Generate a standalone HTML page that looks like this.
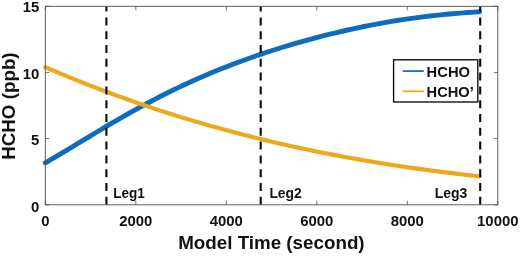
<!DOCTYPE html>
<html><head><meta charset="utf-8"><title>HCHO model</title>
<style>html,body{margin:0;padding:0;background:#fff}svg{display:block}text{font-family:"Liberation Sans",Arial,sans-serif;font-weight:bold;fill:#111}</style></head>
<body>
<svg width="520" height="256" viewBox="0 0 520 256">
<rect width="520" height="256" fill="#fff"/>
<path d="M45.3,162.77 L50.8,159.61 L56.3,156.39 L61.8,153.14 L67.3,149.85 L72.8,146.54 L78.3,143.22 L83.8,139.89 L89.3,136.57 L94.8,133.27 L100.3,129.98 L105.8,126.71 L111.3,123.48 L116.8,120.28 L122.3,117.12 L127.8,114.00 L133.3,110.92 L138.8,107.89 L144.3,104.91 L149.8,101.98 L155.2,99.11 L160.7,96.28 L166.2,93.52 L171.7,90.80 L177.2,88.14 L182.7,85.54 L188.2,82.99 L193.7,80.50 L199.2,78.06 L204.7,75.68 L210.2,73.35 L215.7,71.07 L221.2,68.84 L226.7,66.67 L232.2,64.54 L237.7,62.47 L243.2,60.44 L248.7,58.46 L254.2,56.52 L259.7,54.63 L265.2,52.78 L270.7,50.98 L276.2,49.22 L281.7,47.50 L287.2,45.83 L292.7,44.19 L298.2,42.59 L303.7,41.04 L309.2,39.52 L314.7,38.04 L320.2,36.61 L325.7,35.21 L331.2,33.84 L336.7,32.52 L342.2,31.24 L347.7,29.99 L353.2,28.78 L358.7,27.61 L364.2,26.49 L369.7,25.40 L375.1,24.35 L380.6,23.33 L386.1,22.36 L391.6,21.43 L397.1,20.54 L402.6,19.69 L408.1,18.88 L413.6,18.11 L419.1,17.38 L424.6,16.69 L430.1,16.04 L435.6,15.42 L441.1,14.84 L446.6,14.30 L452.1,13.79 L457.6,13.32 L463.1,12.88 L468.6,12.46 L474.1,12.07 L479.6,11.71" fill="none" stroke="#0c6dbe" stroke-width="4.9" stroke-linecap="round" stroke-linejoin="round"/>
<path d="M45.3,67.08 L50.8,69.45 L56.3,71.80 L61.8,74.11 L67.3,76.39 L72.8,78.64 L78.3,80.86 L83.8,83.05 L89.3,85.22 L94.8,87.35 L100.3,89.45 L105.8,91.53 L111.3,93.58 L116.8,95.60 L122.3,97.59 L127.8,99.55 L133.3,101.48 L138.8,103.39 L144.3,105.27 L149.8,107.12 L155.2,108.95 L160.7,110.75 L166.2,112.52 L171.7,114.27 L177.2,115.99 L182.7,117.68 L188.2,119.35 L193.7,120.99 L199.2,122.61 L204.7,124.20 L210.2,125.77 L215.7,127.31 L221.2,128.83 L226.7,130.32 L232.2,131.79 L237.7,133.24 L243.2,134.66 L248.7,136.06 L254.2,137.44 L259.7,138.79 L265.2,140.12 L270.7,141.43 L276.2,142.71 L281.7,143.97 L287.2,145.21 L292.7,146.43 L298.2,147.63 L303.7,148.81 L309.2,149.96 L314.7,151.09 L320.2,152.21 L325.7,153.30 L331.2,154.37 L336.7,155.42 L342.2,156.45 L347.7,157.47 L353.2,158.46 L358.7,159.43 L364.2,160.38 L369.7,161.32 L375.1,162.23 L380.6,163.13 L386.1,164.01 L391.6,164.87 L397.1,165.71 L402.6,166.54 L408.1,167.35 L413.6,168.14 L419.1,168.91 L424.6,169.67 L430.1,170.41 L435.6,171.13 L441.1,171.84 L446.6,172.53 L452.1,173.20 L457.6,173.86 L463.1,174.51 L468.6,175.13 L474.1,175.75 L479.6,176.35" fill="none" stroke="#eca91a" stroke-width="4.2" stroke-linecap="round" stroke-linejoin="round"/>
<line x1="106.4" y1="204.8" x2="106.4" y2="6.3" stroke="#0a0a0a" stroke-width="2.1" stroke-dasharray="8 5.8"/>
<line x1="260.7" y1="204.8" x2="260.7" y2="6.3" stroke="#0a0a0a" stroke-width="2.1" stroke-dasharray="8 5.8"/>
<line x1="480.2" y1="204.8" x2="480.2" y2="6.3" stroke="#0a0a0a" stroke-width="2.1" stroke-dasharray="8 5.8"/>
<rect x="45.3" y="6.3" width="452.5" height="198.5" fill="none" stroke="#505050" stroke-width="0.9"/>
<path d="M45.3,204.8 v-4 M45.3,6.3 v4 M135.8,204.8 v-4 M135.8,6.3 v4 M226.3,204.8 v-4 M226.3,6.3 v4 M316.8,204.8 v-4 M316.8,6.3 v4 M407.3,204.8 v-4 M407.3,6.3 v4 M497.8,204.8 v-4 M497.8,6.3 v4 M45.3,204.8 h4 M497.8,204.8 h-4 M45.3,138.6 h4 M497.8,138.6 h-4 M45.3,72.5 h4 M497.8,72.5 h-4 M45.3,6.3 h4 M497.8,6.3 h-4" fill="none" stroke="#505050" stroke-width="0.8"/>
<text x="45.3" y="226.2" font-size="14.9" text-anchor="middle">0</text>
<text x="135.8" y="226.2" font-size="14.9" text-anchor="middle">2000</text>
<text x="226.3" y="226.2" font-size="14.9" text-anchor="middle">4000</text>
<text x="316.8" y="226.2" font-size="14.9" text-anchor="middle">6000</text>
<text x="407.3" y="226.2" font-size="14.9" text-anchor="middle">8000</text>
<text x="497.8" y="226.2" font-size="14.9" text-anchor="middle">10000</text>
<text x="39.4" y="212.0" font-size="14.9" text-anchor="end">0</text>
<text x="39.4" y="145.1" font-size="14.9" text-anchor="end">5</text>
<text x="39.4" y="78.6" font-size="14.9" text-anchor="end">10</text>
<text x="39.4" y="12.2" font-size="14.9" text-anchor="end">15</text>
<text x="271.4" y="248.7" font-size="18.8" text-anchor="middle">Model Time (second)</text>
<text transform="translate(15.4,106.1) rotate(-90)" font-size="18.8" text-anchor="middle">HCHO (ppb)</text>
<text x="113.2" y="197.7" font-size="14.4" textLength="31.6" lengthAdjust="spacingAndGlyphs">Leg1</text>
<text x="269.4" y="197.7" font-size="14.4" textLength="32.4" lengthAdjust="spacingAndGlyphs">Leg2</text>
<text x="434.7" y="197.7" font-size="14.4" textLength="32.7" lengthAdjust="spacingAndGlyphs">Leg3</text>
<rect x="393.6" y="59.8" width="84.2" height="42.2" fill="#fff" stroke="#111" stroke-width="1.4"/>
<line x1="402.7" y1="71.1" x2="423.8" y2="71.1" stroke="#0c6dbe" stroke-width="1.7"/>
<line x1="402.7" y1="91.3" x2="423.8" y2="91.3" stroke="#eca91a" stroke-width="1.7"/>
<text x="426.6" y="76.7" font-size="14.2" textLength="43.4" lengthAdjust="spacingAndGlyphs">HCHO</text>
<text x="426.6" y="97" font-size="14.2" textLength="47.2" lengthAdjust="spacingAndGlyphs">HCHO’</text>
</svg>
</body></html>
